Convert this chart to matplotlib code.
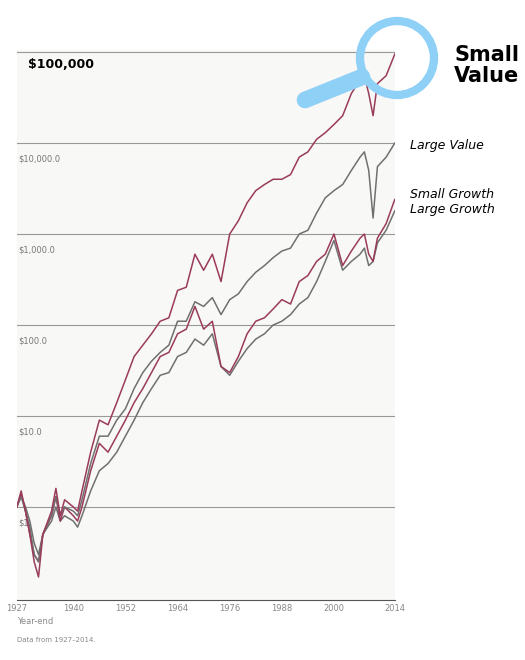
import matplotlib
matplotlib.use("Agg")
import matplotlib.pyplot as plt
from matplotlib.patches import Circle

years = [1927,1928,1929,1930,1931,1932,1933,1935,1936,1937,1938,1940,1941,1942,1944,1946,1948,1950,1952,1954,1956,1958,1960,1962,1964,1966,1968,1970,1972,1974,1976,1978,1980,1982,1984,1986,1988,1990,1992,1994,1996,1998,2000,2002,2004,2006,2007,2008,2009,2010,2012,2014]
small_value = [1,1.5,0.9,0.5,0.25,0.17,0.5,0.9,1.6,0.8,1.2,1.0,0.9,1.5,4,9,8,14,25,45,60,80,110,120,240,260,600,400,600,300,1000,1400,2200,3000,3500,4000,4000,4500,7000,8000,11000,13000,16000,20000,35000,50000,55000,35000,20000,45000,55000,95000]
large_value = [1,1.3,0.9,0.6,0.3,0.25,0.5,0.8,1.3,0.8,1.0,0.9,0.8,1.2,3,6,6,9,12,20,30,40,50,60,110,110,180,160,200,130,190,220,300,380,450,550,650,700,1000,1100,1700,2500,3000,3500,5000,7000,8000,5000,1500,5500,7000,10000]
small_growth = [1,1.4,0.9,0.5,0.3,0.25,0.5,0.8,1.3,0.7,1.0,0.8,0.7,1.0,2.5,5,4,6,9,14,20,30,45,50,80,90,160,90,110,35,30,45,80,110,120,150,190,170,300,350,500,600,1000,450,650,900,1000,600,500,900,1300,2400]
large_growth = [1,1.3,1.0,0.7,0.4,0.3,0.5,0.7,1.0,0.7,0.8,0.7,0.6,0.8,1.5,2.5,3,4,6,9,14,20,28,30,45,50,70,60,80,35,28,40,55,70,80,100,110,130,170,200,300,500,850,400,500,600,700,450,500,800,1100,1800]

yticks = [1, 10, 100, 1000, 10000, 100000]
ylabels = ["$1", "$10.0", "$100.0", "$1,000.0", "$10,000.0", ""]
xticks = [1927, 1940, 1952, 1964, 1976, 1988, 2000, 2014]

fig = plt.figure(figsize=(5.25, 6.6), dpi=100)
ax = fig.add_axes([0.032, 0.091, 0.72, 0.833])
ax.set_facecolor("#f8f8f6")
ax.set_yscale("log")
ax.set_xlim(1927, 2014)
ax.set_ylim(0.095, 105000)
for t in yticks:
    ax.axhline(t, color="#999999", lw=0.8, zorder=1)
maroon = "#9a3b5c"
grey = "#707070"
ax.plot(years, large_growth, color=grey, lw=1.1, zorder=3)
ax.plot(years, small_growth, color=maroon, lw=1.1, zorder=3)
ax.plot(years, large_value, color=grey, lw=1.1, zorder=3)
ax.plot(years, small_value, color=maroon, lw=1.1, zorder=3)
for t, l in zip(yticks, ylabels):
    if l:
        ax.text(1927.3, t / 1.35, l, fontsize=6, color="#777777", va="top", zorder=2)
ax.text(1929.5, 100000 / 1.15, "$100,000", fontsize=9, fontweight="bold", va="top", zorder=4)
ax.set_yticks([])
ax.minorticks_off()
ax.set_xticks(xticks)
ax.set_xticklabels([str(x) for x in xticks], fontsize=6, color="#888888")
ax.tick_params(axis="x", length=0, pad=3)
for s in ["top", "right", "left"]:
    ax.spines[s].set_visible(False)
ax.spines["bottom"].set_color("#555555")

fig.text(0.032, 0.055, "Year-end", fontsize=6, color="#888888")
fig.text(0.032, 0.028, "Data from 1927\u20132014.", fontsize=5, color="#888888")

fig.text(0.78, 0.775, "Large Value", fontsize=9, style="italic")
fig.text(0.78, 0.700, "Small Growth", fontsize=9, style="italic")
fig.text(0.78, 0.678, "Large Growth", fontsize=9, style="italic")
fig.text(0.865, 0.875, "Small\nValue", fontsize=15, fontweight="bold", linespacing=1.1)

ov = fig.add_axes([0, 0, 1, 1])
ov.set_xlim(0, 525)
ov.set_ylim(660, 0)
ov.axis("off")
ov.plot([305, 362], [100, 77], color="#8fd0f7", lw=12, solid_capstyle="round")
ov.add_patch(Circle((397, 58), 37, fill=False, ec="#8fd0f7", lw=6))

fig.savefig("out.png", dpi=100)
